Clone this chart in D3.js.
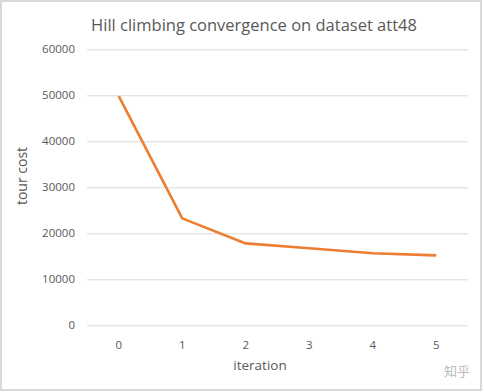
<!DOCTYPE html>
<html><head><meta charset="utf-8">
<script src="https://cdn.jsdelivr.net/npm/d3@7"></script>
<style>body{margin:0;background:#fff}svg{display:block}</style>
</head><body>
<script>
const iterations = ["0","1","2","3","4","5"];
const tourCost = [49800, 23250, 17800, 16750, 15650, 15200];
const yTicks = [0,10000,20000,30000,40000,50000,60000];
const title = "Hill climbing convergence on dataset att48";
const xTitle = "iteration";
const yTitle = "tour cost";

const W=484,H=392;
const svg=d3.select("body").append("svg").attr("width",W).attr("height",H);
svg.append("rect").attr("x",1).attr("y",1).attr("width",W-4).attr("height",H-3)
  .attr("fill","#fff").attr("stroke","#d9d9d9").attr("stroke-width",2);

const font="'Open Sans', 'Liberation Sans', sans-serif";
const x=d3.scaleBand().domain(iterations).range([87,468]);
const y=d3.scaleLinear().domain([0,60000]).range([325.3,49.3]);

const yAxis=d3.axisLeft(y).tickValues(yTicks).tickSize(-(468-87)).tickPadding(12).tickFormat(d3.format("d"));
const gy=svg.append("g").attr("transform","translate(87,0)").call(yAxis);
gy.select(".domain").remove();
gy.selectAll(".tick line").attr("stroke","#d9d9d9").attr("stroke-width",1);
gy.selectAll(".tick text").attr("fill","#595959").style("font-family",font).style("font-size","11.5px");

const xAxis=d3.axisBottom(x).tickSize(0).tickPadding(16);
const gx=svg.append("g").attr("transform","translate(0,325.3)").call(xAxis);
gx.select(".domain").remove();
gx.selectAll(".tick text").attr("fill","#595959").style("font-family",font).style("font-size","11.5px");

const line=d3.line().x((d,i)=>x(iterations[i])+x.bandwidth()/2).y(d=>y(d));
svg.append("path").datum(tourCost).attr("d",line).attr("fill","none")
  .attr("stroke","#ED7D31").attr("stroke-width",2.6).attr("stroke-linejoin","round");

svg.append("text").attr("x",254).attr("y",31).attr("text-anchor","middle")
  .attr("fill","#595959").style("font-family",font).style("font-size","16.5px").text(title);
svg.append("text").attr("x",260).attr("y",370).attr("text-anchor","middle")
  .attr("fill","#595959").style("font-family",font).style("font-size","13.5px").text(xTitle);
svg.append("text").attr("transform","translate(27,176) rotate(-90)").attr("text-anchor","middle")
  .attr("fill","#595959").style("font-family",font).style("font-size","14px").text(yTitle);
svg.append("text").attr("x",470).attr("y",376).attr("text-anchor","end")
  .attr("fill","#bbbbbb").style("font-family","'Noto Sans CJK SC', sans-serif").style("font-size","13px").text("知乎");
</script>
</body></html>
